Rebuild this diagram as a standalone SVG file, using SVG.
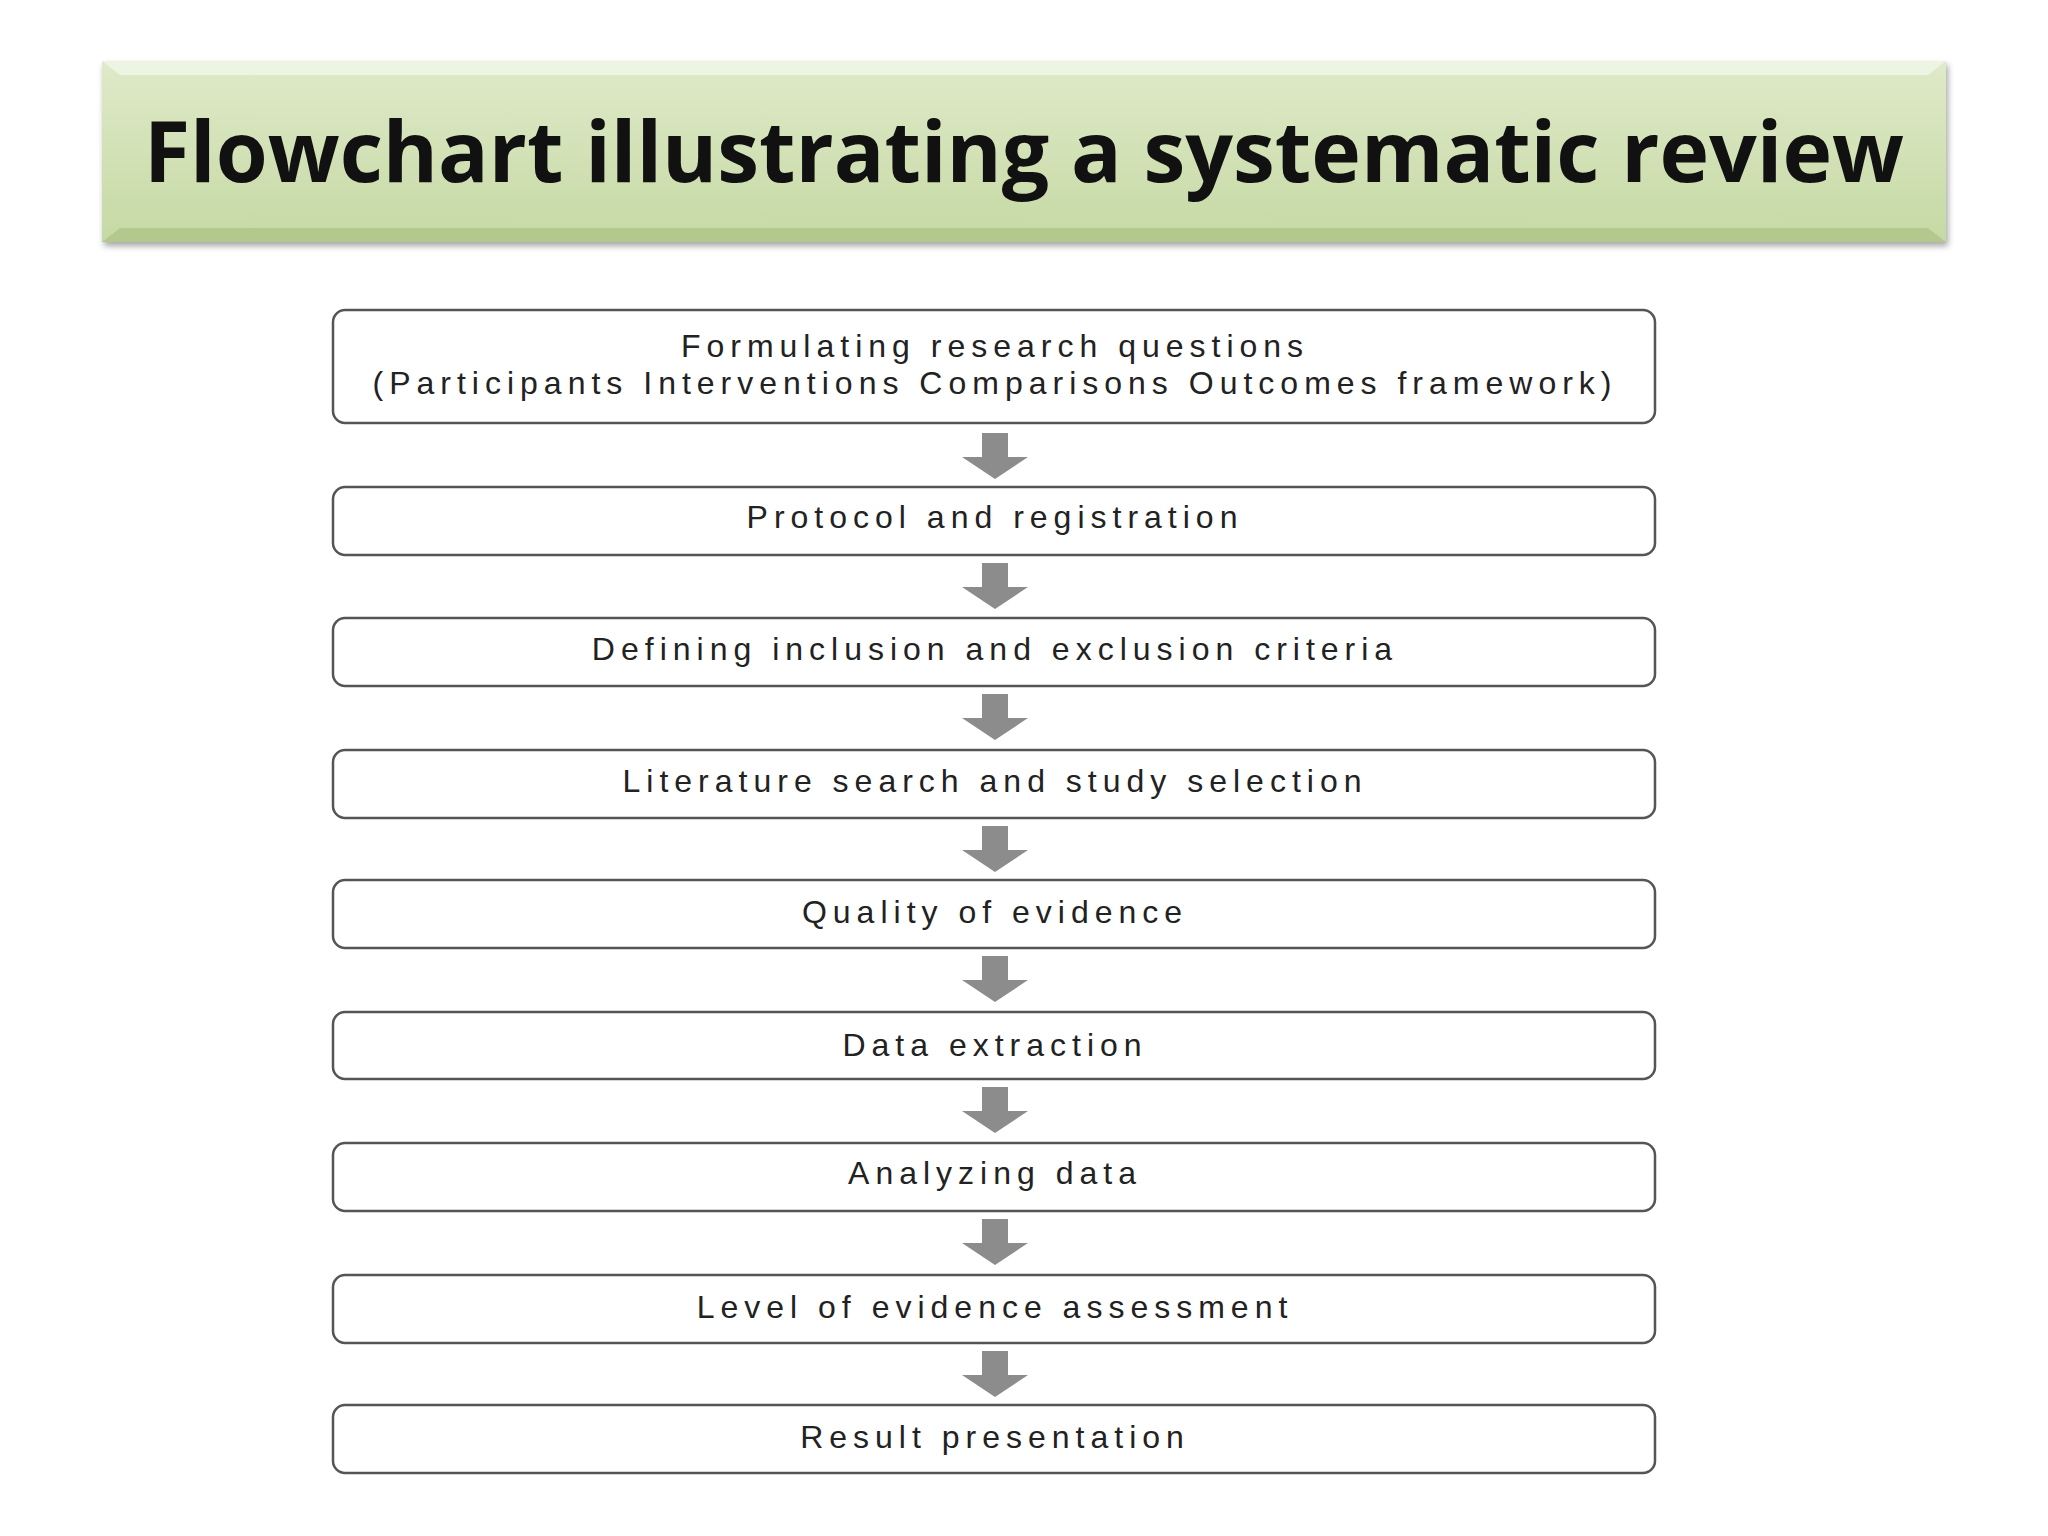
<svg xmlns="http://www.w3.org/2000/svg" width="2048" height="1536" viewBox="0 0 2048 1536">
<defs>
<linearGradient id="g" x1="0" y1="0" x2="0" y2="1"><stop offset="0" stop-color="#dfeac9"/><stop offset="1" stop-color="#c6d9a4"/></linearGradient>
<filter id="sh" x="-5%" y="-20%" width="110%" height="150%"><feDropShadow dx="2" dy="4" stdDeviation="3" flood-color="#000" flood-opacity="0.35"/></filter>
</defs>
<style>
.b{fill:#fff;stroke:#555;stroke-width:2.5}
.t{font-family:"Liberation Sans",Arial,sans-serif;font-size:32px;fill:#222;text-anchor:middle;letter-spacing:6px}
.a{fill:#8c8c8c}
</style>
<rect width="2048" height="1536" fill="#fff"/>
<g id="title">
<rect x="102" y="61" width="1844" height="181" fill="url(#g)" filter="url(#sh)"/>
<path d="M102 61h1844l-18 14H120z" fill="#eef4e2"/>
<path d="M102 242h1844l-18-14H120z" fill="#b3c88d"/>
<text x="1024" y="182" font-family="'Open Sans','Noto Sans',sans-serif" font-weight="bold" font-size="84" text-anchor="middle" fill="#111">Flowchart illustrating a systematic review</text>
</g>
<g id="n1"><rect class="b" x="333" y="310" width="1322" height="113" rx="12"/><text class="t" x="995" y="357">Formulating research questions</text><text class="t" x="995" y="394">(Participants Interventions Comparisons Outcomes framework)</text></g>
<g id="n2"><rect class="b" x="333" y="487" width="1322" height="68" rx="12"/><text class="t" x="995" y="528">Protocol and registration</text></g>
<g id="n3"><rect class="b" x="333" y="618" width="1322" height="68" rx="12"/><text class="t" x="995" y="660">Defining inclusion and exclusion criteria</text></g>
<g id="n4"><rect class="b" x="333" y="750" width="1322" height="68" rx="12"/><text class="t" x="995" y="792">Literature search and study selection</text></g>
<g id="n5"><rect class="b" x="333" y="880" width="1322" height="68" rx="12"/><text class="t" x="995" y="923">Quality of evidence</text></g>
<g id="n6"><rect class="b" x="333" y="1012" width="1322" height="67" rx="12"/><text class="t" x="995" y="1056">Data extraction</text></g>
<g id="n7"><rect class="b" x="333" y="1143" width="1322" height="68" rx="12"/><text class="t" x="995" y="1184">Analyzing data</text></g>
<g id="n8"><rect class="b" x="333" y="1275" width="1322" height="68" rx="12"/><text class="t" x="995" y="1318">Level of evidence assessment</text></g>
<g id="n9"><rect class="b" x="333" y="1405" width="1322" height="68" rx="12"/><text class="t" x="995" y="1448">Result presentation</text></g>
<g id="connectors">
<path class="a" d="M982 433h26v24h20l-33 22-33-22h20z"/>
<path class="a" d="M982 563h26v24h20l-33 22-33-22h20z"/>
<path class="a" d="M982 694h26v24h20l-33 22-33-22h20z"/>
<path class="a" d="M982 826h26v24h20l-33 22-33-22h20z"/>
<path class="a" d="M982 956h26v24h20l-33 22-33-22h20z"/>
<path class="a" d="M982 1087h26v24h20l-33 22-33-22h20z"/>
<path class="a" d="M982 1219h26v24h20l-33 22-33-22h20z"/>
<path class="a" d="M982 1351h26v24h20l-33 22-33-22h20z"/>
</g>
</svg>
